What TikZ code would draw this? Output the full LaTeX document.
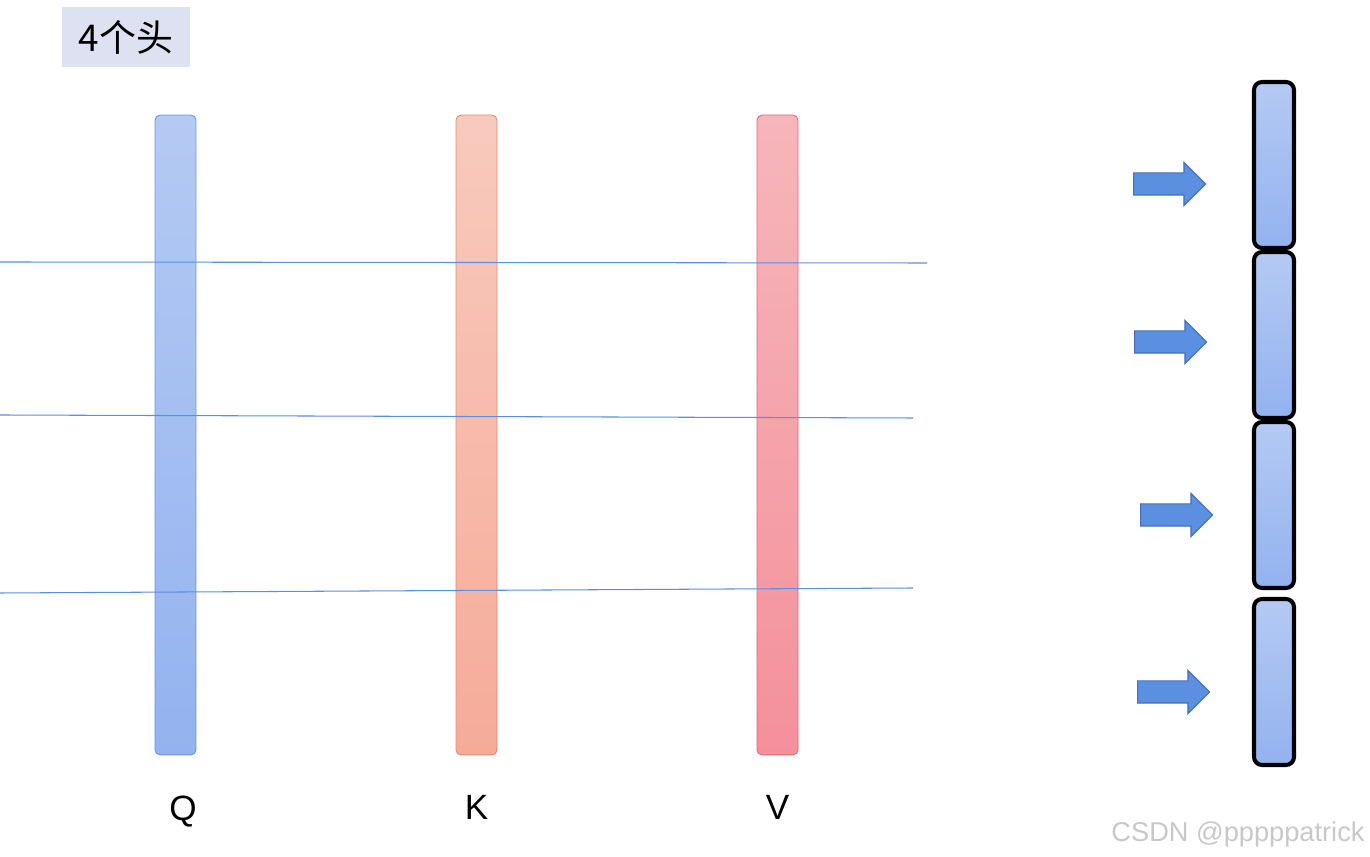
\documentclass[tikz,border=0pt]{standalone}
\usepackage{fontspec}
\setmainfont{Liberation Sans}
\newfontfamily\cjk{Noto Sans CJK SC}
\usetikzlibrary{shapes.arrows,positioning}
\definecolor{QTop}{HTML}{B4CAF3}
\definecolor{QBottom}{HTML}{93B2EF}
\definecolor{QLine}{HTML}{6D95E0}
\definecolor{KTop}{HTML}{F8CABD}
\definecolor{KBottom}{HTML}{F6AB99}
\definecolor{KLine}{HTML}{E9866F}
\definecolor{VTop}{HTML}{F6B6BB}
\definecolor{VBottom}{HTML}{F4909B}
\definecolor{VLine}{HTML}{E0697A}
\definecolor{CutLine}{HTML}{5A8FE2}
\definecolor{ArrowFill}{HTML}{5B8FE0}
\definecolor{ArrowLine}{HTML}{4470B8}
\definecolor{TagFill}{HTML}{DEE1F1}
\definecolor{MarkGray}{HTML}{C8C8C8}
\tikzset{
    % tall vectors
    bar/.style={
        rectangle,
        rounded corners=0.1cm,
        minimum width=0.82cm,
        minimum height=12.8cm,
        line width=0.5pt
    },
    bar q/.style={bar, draw=QLine, top color=QTop, bottom color=QBottom},
    bar k/.style={bar, draw=KLine, top color=KTop, bottom color=KBottom},
    bar v/.style={bar, draw=VLine, top color=VTop, bottom color=VBottom},
    % head pieces on the right
    head/.style={
        rectangle,
        rounded corners=0.16cm,
        draw=black,
        line width=2.3pt,
        minimum width=0.8cm,
        minimum height=3.32cm,
        top color=QTop,
        bottom color=QBottom
    },
    block arrow/.style={
        single arrow,
        draw=ArrowLine,
        fill=ArrowFill,
        line width=0.6pt,
        minimum height=1.44cm,
        single arrow head extend=0.21cm,
        inner xsep=0pt,
        inner ysep=0.21cm
    },
    cut/.style={
        draw=CutLine,
        line width=0.6pt
    },
    letter/.style={
        font=\fontsize{20}{24}\selectfont,
        inner sep=0pt
    }
}
\begin{document}
\begin{tikzpicture}[x=0.02cm, y=-0.02cm]
        \useasboundingbox (0,0) rectangle (1370,857);

        % Tag
        \node[fill=TagFill, minimum width=2.58cm, minimum height=1.2cm,
              font=\cjk\fontsize{21}{24}\selectfont] (tag) at (126,37) {4个头};

        % Q K V
        \node[bar q] (qbar) at (175.5,435) {};
        \node[bar k] (kbar) at (476.5,435) {};
        \node[bar v] (vbar) at (777.5,435) {};

        \node[letter, below=0.8cm of qbar, xshift=0.15cm] (qlab) {Q};
        \node[letter, below=0.8cm of kbar] (klab) {K};
        \node[letter, below=0.8cm of vbar] (vlab) {V};

        % Split lines
        \coordinate (c1a) at (0,262);
        \coordinate (c1b) at (927,263);
        \coordinate (c2a) at (0,415);
        \coordinate (c2b) at (913,418);
        \coordinate (c3a) at (0,593);
        \coordinate (c3b) at (913,588);
        \draw[cut] (c1a) -- (c1b);
        \draw[cut] (c2a) -- (c2b);
        \draw[cut] (c3a) -- (c3b);

        % Heads
        \node[head] (h1) at (1274,165) {};
        \node[head] (h2) at (1274,335) {};
        \node[head] (h3) at (1274,505) {};
        \node[head] (h4) at (1274,682) {};

        \node[block arrow] (a1) at (1164,184) {};
        \node[block arrow] (a2) at (1165,342) {};
        \node[block arrow] (a3) at (1171,515) {};
        \node[block arrow] (a4) at (1168,692) {};

        % Watermark
        \node[text=MarkGray, font=\fontsize{15.5}{18}\selectfont, inner sep=0pt]
              (mark) at (1238,834) {CSDN @pppppatrick};
    \end{tikzpicture}
\end{document}
